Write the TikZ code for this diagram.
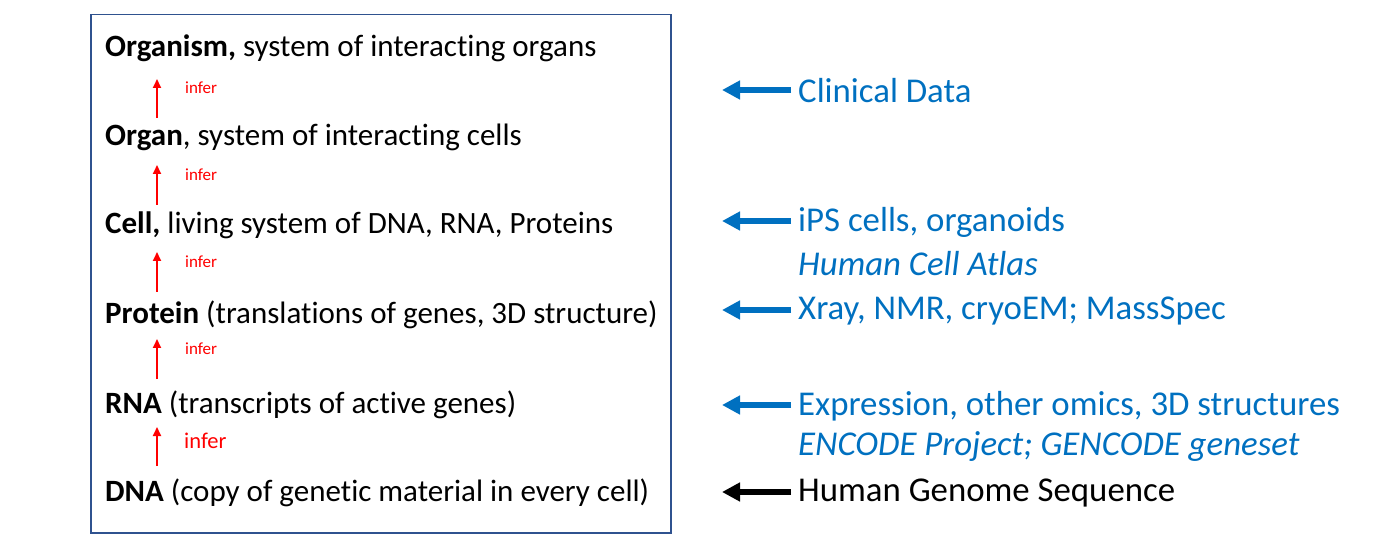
\documentclass[tikz,border=0pt]{standalone}
\usepackage{fontspec}
\setmainfont[Ligatures=NoCommon]{Carlito}
\usetikzlibrary{arrows.meta}
\definecolor{boxblue}{RGB}{47,82,143}
\definecolor{txtblue}{RGB}{0,112,192}
\definecolor{infred}{RGB}{255,0,0}
\tikzset{
  lvl/.style={anchor=west, inner sep=0pt, font=\fontsize{31}{35}\selectfont},
  src/.style={anchor=west, inner sep=0pt, font=\fontsize{34.8}{39}\selectfont, text=txtblue},
  inf/.style={anchor=west, inner sep=0pt, font=\fontsize{17}{20}\selectfont, text=infred},
  infarrow/.style={draw=infred, line width=2pt, -{Triangle[length=9pt,width=8pt]}},
  bigarrow/.style={line width=5.5pt, -{Triangle[length=18pt,width=18pt]}},
}
\begin{document}
\begin{tikzpicture}[x=1pt,y=-1pt]
\useasboundingbox (0,0) rectangle (1398,545);
\node[draw=boxblue, line width=1.5pt, minimum width=580pt, minimum height=518pt, anchor=north west, inner sep=0pt] (box) at (90,14) {};
\node[lvl] (org) at (105,48) {\textbf{Organism,} system of interacting organs};
\node[lvl] (organ) at (105,137) {\textbf{Organ}, system of interacting cells};
\node[lvl] (cell) at (105,225) {\textbf{Cell,} living system of DNA, RNA, Proteins};
\node[lvl] (prot) at (105,315) {\textbf{Protein} (translations of genes, 3D structure)};
\node[lvl] (rna) at (105,405) {\textbf{RNA} (transcripts of active genes)};
\node[lvl] (dna) at (105,493) {\textbf{DNA} (copy of genetic material in every cell)};
% infer arrows
\coordinate (a1s) at (157,118); \coordinate (a1e) at (157,79);
\coordinate (a2s) at (157,205); \coordinate (a2e) at (157,165);
\coordinate (a3s) at (157,292); \coordinate (a3e) at (157,252);
\coordinate (a4s) at (157,379); \coordinate (a4e) at (157,339);
\coordinate (a5s) at (157,466); \coordinate (a5e) at (157,427);
\draw[infarrow] (a1s) -- (a1e);
\draw[infarrow] (a2s) -- (a2e);
\draw[infarrow] (a3s) -- (a3e);
\draw[infarrow] (a4s) -- (a4e);
\draw[infarrow] (a5s) -- (a5e);
\node[inf] (i1) at (185,88) {infer};
\node[inf] (i2) at (185,175) {infer};
\node[inf] (i3) at (185,262) {infer};
\node[inf] (i4) at (185,349) {infer};
\node[inf, font=\fontsize{22.5}{26}\selectfont] (i5) at (184,441) {infer};
% sources
\node[src] (clin) at (798,91) {Clinical Data};
\node[src] (ips) at (798,222) {iPS cells, organoids};
\node[src] (hca) at (798,264) {\itshape Human Cell Atlas};
\node[src] (xray) at (798,311) {Xray, NMR, cryoEM; MassSpec};
\node[src] (expr) at (798,406) {Expression, other omics, 3D structures};
\node[src] (enc) at (798,447) {\itshape ENCODE Project; GENCODE geneset};
\node[src, text=black] (hgs) at (798,493) {Human Genome Sequence};
\coordinate (t1) at (722,90);
\coordinate (t2) at (722,221);
\coordinate (t3) at (722,310);
\coordinate (t4) at (722,405);
\coordinate (t5) at (722,492);
\draw[bigarrow, draw=txtblue, fill=txtblue] (t1 -| clin.west) ++(-7,0) coordinate (c1) (c1) -- (t1);
\draw[bigarrow, draw=txtblue, fill=txtblue] (t2 -| ips.west) ++(-7,0) coordinate (c2) (c2) -- (t2);
\draw[bigarrow, draw=txtblue, fill=txtblue] (t3 -| xray.west) ++(-7,0) coordinate (c3) (c3) -- (t3);
\draw[bigarrow, draw=txtblue, fill=txtblue] (t4 -| expr.west) ++(-7,0) coordinate (c4) (c4) -- (t4);
\draw[bigarrow, draw=black, fill=black] (t5 -| hgs.west) ++(-7,0) coordinate (c5) (c5) -- (t5);
\end{tikzpicture}
\end{document}
